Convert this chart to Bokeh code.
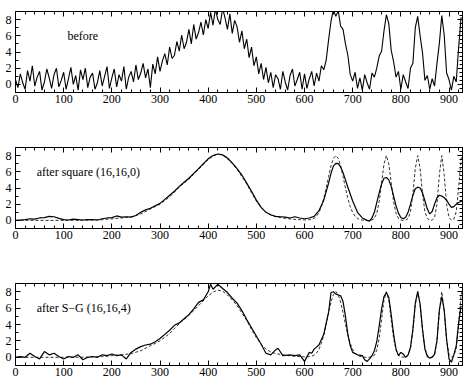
from bokeh.plotting import figure
from bokeh.layouts import column
from bokeh.models import Range1d, LinearAxis, SingleIntervalTicker, Label, CustomLabelingPolicy
from bokeh.embed import file_html
from bokeh.resources import INLINE

# ---------------- data ----------------
raw_x = list(range(0, 930, 5))
raw_y = [
    0.6, -0.4, 1.3, 0.2, -0.6, 1.7, 0.4, 2.3, -0.2, 0.9, 1.6, -0.7, 0.3, 1.9, 0.8, -0.5, 1.2, 2.0, -0.3, 0.5,
    1.5, -0.6, 0.7, 2.1, 0.0, 1.1, -0.7, 1.8, 0.6, 2.0, -0.4, 0.9, 1.4, -0.6, 0.2, 1.7, -0.2, 1.0, 2.2, -0.5,
    0.8, 1.9, -0.3, 1.2, 0.4, 2.2, -0.6, 0.9, 1.6, 0.3, 2.4, 0.6, 1.4, 2.6, 0.8, 1.9, -0.4, 2.5, 1.3, 3.4,
    1.6, 2.9, 3.8, 2.4, 4.6, 3.2, 3.6, 5.3, 4.1, 6.1, 4.4, 5.2, 6.8, 5.0, 7.4, 5.6, 6.4, 7.7, 6.1, 8.0,
    6.9, 8.9, 7.3, 9.3, 8.0, 7.4, 9.4, 8.2, 6.8, 8.7, 6.3, 7.9, 7.1, 5.2, 6.6, 4.4, 5.6, 3.3, 4.6, 2.3,
    3.4, 1.3, 2.6, 0.6, 2.1, 0.2, 1.5, -0.4, 1.2, 0.7, -0.6, 1.6, 0.3, -0.7, 1.1, 1.9, -0.2, 0.6, 1.5, -0.6,
    1.3, -0.5, 0.7, 1.6, -0.2, 1.4, 0.4, 2.3, 1.8, 3.0, 5.5, 7.8, 9.2, 8.4, 9.1, 7.2, 6.8, 5.0, 3.6, 1.2,
    0.4, 1.5, -0.5, 0.8, -0.7, 1.2, 0.2, -0.6, 1.4, 0.9, 2.0, 3.5, 4.1, 6.6, 8.6, 7.5, 4.2, 2.8, 0.9, 1.6,
    -0.6, 1.2, 0.3, -0.5, 2.0, 2.6, 7.0, 8.4, 6.0, 3.9, 0.5, 1.1, -0.6, 0.7, -0.2, 2.6, 5.1, 8.5, 6.1, 1.4,
    0.6, -0.7, 1.0, 0.3, 4.6, 8.3,
]

true_x = [0, 100, 150, 180, 200, 220, 240, 260, 280, 300, 320, 340, 360, 380, 400, 410, 420, 430, 440,
          450, 460, 470, 480, 490, 500, 510, 520, 530, 540, 560, 580, 600,
          605, 610, 615, 620, 625, 630, 635, 640, 645, 650, 655, 660, 665, 670, 675, 680, 685, 690, 695,
          700, 705, 710, 715, 720, 725, 730, 735, 740, 745, 750, 755, 760, 765, 770, 775, 780, 785, 790, 795,
          800, 805, 810, 815, 820, 825, 830, 835, 840, 845, 850, 855, 860, 865, 870, 875, 880, 885, 890, 895,
          900, 905, 910, 915, 920, 925, 927]
true_y = [0.0, 0.0, 0.02, 0.08, 0.2, 0.3, 0.45, 0.8, 1.4, 2.0, 2.9, 4.1, 5.1, 6.3, 7.5, 7.95, 8.2, 8.05, 7.6,
          7.0, 6.3, 5.4, 4.5, 3.4, 2.4, 1.6, 1.0, 0.65, 0.45, 0.25, 0.12, 0.05,
          0.06, 0.09, 0.14, 0.27, 0.52, 0.97, 1.69, 2.71, 4.0, 5.42, 6.73, 7.66, 8.0, 7.66, 6.73, 5.42, 4.0, 2.71, 1.69,
          0.96, 0.5, 0.24, 0.1, 0.04, 0.01, 0.0, 0.01, 0.05, 0.25, 0.87, 2.3, 4.6, 6.97, 8.0, 6.97, 4.6, 2.3, 0.87, 0.25,
          0.05, 0.01, 0.03, 0.23, 1.08, 3.29, 6.41, 8.0, 6.41, 3.29, 1.08, 0.23, 0.03, 0.03, 0.35, 2.0, 5.66, 8.0, 5.66, 2.0,
          0.35, 0.03, 0.15, 1.08, 4.05, 7.57, 8.0]

sq_x = [0, 10, 20, 30, 40, 50, 60, 70, 80, 90, 100, 110, 120, 130, 140, 150, 160, 170, 180, 190,
        200, 210, 220, 230, 240, 250, 260, 270, 280, 290, 300, 310, 320, 330, 340, 350, 360, 370, 380, 390,
        400, 410, 420, 430, 440, 450, 460, 470, 480, 490, 500, 510, 520, 530, 540, 550, 560, 570, 580, 590,
        600, 610, 620, 630, 640, 650, 655, 660, 665, 670, 675, 680, 690, 700, 710, 720, 730, 735, 740, 745,
        750, 755, 760, 765, 770, 775, 780, 785, 790, 795, 800, 805, 810, 815, 820, 825, 830, 835, 840, 845,
        850, 855, 860, 865, 870, 875, 880, 885, 890, 895, 900, 905, 910, 915, 920, 927]
sq_y = [0.0, 0.05, 0.1, 0.2, 0.15, 0.3, 0.35, 0.5, 0.45, 0.25, 0.1, 0.05, 0.15, 0.1, 0.05, 0.1, 0.1, 0.05, 0.2, 0.3,
        0.35, 0.55, 0.4, 0.45, 0.4, 0.6, 1.0, 1.3, 1.5, 1.8, 2.1, 2.6, 3.1, 3.6, 4.2, 4.7, 5.2, 5.8, 6.4, 7.0,
        7.6, 8.0, 8.2, 8.1, 7.7, 7.1, 6.4, 5.6, 4.6, 3.6, 2.5, 1.6, 1.0, 0.7, 0.5, 0.45, 0.4, 0.3, 0.45, 0.3,
        0.2, 0.3, 0.5, 1.2, 2.5, 4.6, 5.8, 6.7, 7.05, 7.0, 6.6, 5.9, 4.1, 2.4, 1.0, 0.3, 0.0, -0.1, 0.3, 1.0,
        2.2, 3.4, 4.5, 5.2, 5.3, 5.0, 4.2, 3.0, 1.8, 0.9, 0.35, 0.2, 0.4, 1.0, 2.0, 3.1, 3.9, 4.1, 4.0, 3.4,
        2.4, 1.4, 0.8, 1.1, 2.0, 2.8, 3.1, 3.0, 2.8, 2.5, 2.0, 1.6, 1.7, 2.0, 2.2, 2.4]

sg_x = [0, 10, 20, 30, 40, 50, 60, 70, 80, 90, 100, 110, 120, 130, 140, 150, 160, 170, 180, 190,
        200, 210, 220, 230, 240, 250, 260, 270, 280, 290, 300, 310, 320, 330, 340, 350, 360, 370, 380, 390,
        400, 405, 410, 420, 430, 440, 450, 460, 470, 480, 490, 500, 510, 520, 530, 540, 545, 555, 570, 580, 590,
        600, 610, 615, 620, 630, 640, 650, 655, 660, 665, 670, 675, 680, 685, 690, 695, 700, 710, 720, 725,
        730, 735, 740, 745, 750, 755, 760, 765, 770, 775, 780, 785, 790, 795, 800, 805, 810, 815, 820, 825,
        830, 835, 840, 845, 850, 855, 860, 865, 870, 875, 880, 885, 890, 895, 900, 905, 910, 915, 920, 925]
sg_y = [0.0, 0.1, 0.0, 0.5, 0.1, -0.2, 0.7, 0.3, 0.5, 0.1, -0.2, 0.1, 0.0, 0.3, -0.3, 0.0, 0.1, 0.0, 0.3, 0.2,
        0.4, 0.2, 0.3, -0.2, 0.6, 1.0, 1.3, 1.5, 1.6, 1.9, 2.3, 2.8, 3.3, 3.9, 4.2, 4.7, 5.2, 5.9, 6.7, 7.0,
        8.0, 8.9, 8.3, 8.9, 8.4, 7.9, 7.2, 6.6, 5.7, 4.6, 3.6, 2.6, 1.6, 0.5, 0.3, 0.9, 1.1, 0.2, 0.3, 0.2, 0.3,
        -0.5, 0.6, 0.5, 1.0, 1.5, 2.8, 5.5, 7.9, 8.0, 7.7, 7.6, 7.5, 6.8, 5.0, 2.8, 1.4, 0.6, 0.3, 0.2, -0.3,
        -0.5, -0.2, 0.2, 0.8, 1.9, 3.8, 5.9, 7.4, 7.9, 7.3, 5.2, 2.8, 1.0, 0.2, 0.6, 0.4, 0.0, 0.3, 1.2, 3.4,
        6.6, 8.0, 6.5, 3.4, 1.0, 0.1, -0.1, 0.0, 0.4, 2.0, 5.8, 7.4, 5.8, 2.2, -0.2, -0.6, 0.3, 1.4, 4.2, 6.3]

panel_labels = ["before", "after square (16,16,0)", "after S\u2212G (16,16,4)"]
label_x = [108, 44, 44]
label_y = [6.0, 6.0, 6.0]

FONT = "Liberation Serif"


def style_axis(ax, minor, show_labels=True, standoff=3):
    ax.ticker = SingleIntervalTicker(interval=ax.ticker.interval, num_minor_ticks=minor)
    ax.axis_line_color = "black"
    ax.major_tick_line_color = "black"
    ax.minor_tick_line_color = "black"
    ax.major_tick_in = 5
    ax.major_tick_out = 0
    ax.minor_tick_in = 3
    ax.minor_tick_out = 0
    ax.major_label_text_font = FONT
    ax.major_label_text_color = "black"
    ax.major_label_text_font_size = "12px"
    ax.major_label_standoff = standoff
    if not show_labels:
        ax.major_label_policy = CustomLabelingPolicy(
            code="for (const i of indices) { if (i < 0) { yield i } }")
        ax.major_label_standoff = 0


def make_panel(height, bottom):
    p = figure(width=474, height=height, output_backend="svg", toolbar_location=None,
               x_range=Range1d(0, 928), y_range=Range1d(-1, 9),
               x_axis_type=None, y_axis_type=None,
               min_border_left=15, min_border_right=12, min_border_top=7, min_border_bottom=bottom)
    p.outline_line_color = "black"
    p.outline_line_width = 1
    p.xgrid.visible = False
    p.ygrid.visible = False
    p.background_fill_color = "white"
    p.border_fill_color = "white"

    xb = LinearAxis(ticker=SingleIntervalTicker(interval=100))
    style_axis(xb, 5, standoff=2)
    p.add_layout(xb, "below")
    xt = LinearAxis(ticker=SingleIntervalTicker(interval=100))
    style_axis(xt, 5, show_labels=False)
    p.add_layout(xt, "above")
    yl = LinearAxis(ticker=SingleIntervalTicker(interval=2))
    style_axis(yl, 2, standoff=4)
    p.add_layout(yl, "left")
    yr = LinearAxis(ticker=SingleIntervalTicker(interval=2))
    style_axis(yr, 4, show_labels=False)
    p.add_layout(yr, "right")
    return p


p1 = make_panel(136, 44)
p1.line(raw_x, raw_y, line_color="black", line_width=1.1)

p2 = make_panel(136, 44)
p2.line(true_x, true_y, line_color="#333333", line_width=1, line_dash="3 2")
p2.line(sq_x, sq_y, line_color="black", line_width=1.2)

p3 = make_panel(114, 21)
p3.line(true_x, true_y, line_color="#333333", line_width=1, line_dash="3 2")
p3.line(sg_x, sg_y, line_color="black", line_width=1.2)

for p, t, lx, ly in zip([p1, p2, p3], panel_labels, label_x, label_y):
    p.add_layout(Label(x=lx, y=ly, text=t, text_font=FONT, text_font_size="12px",
                       text_baseline="middle", text_color="black"))

layout = column(p1, p2, p3, spacing=0)
open("out.html", "w").write(file_html(layout, INLINE))
